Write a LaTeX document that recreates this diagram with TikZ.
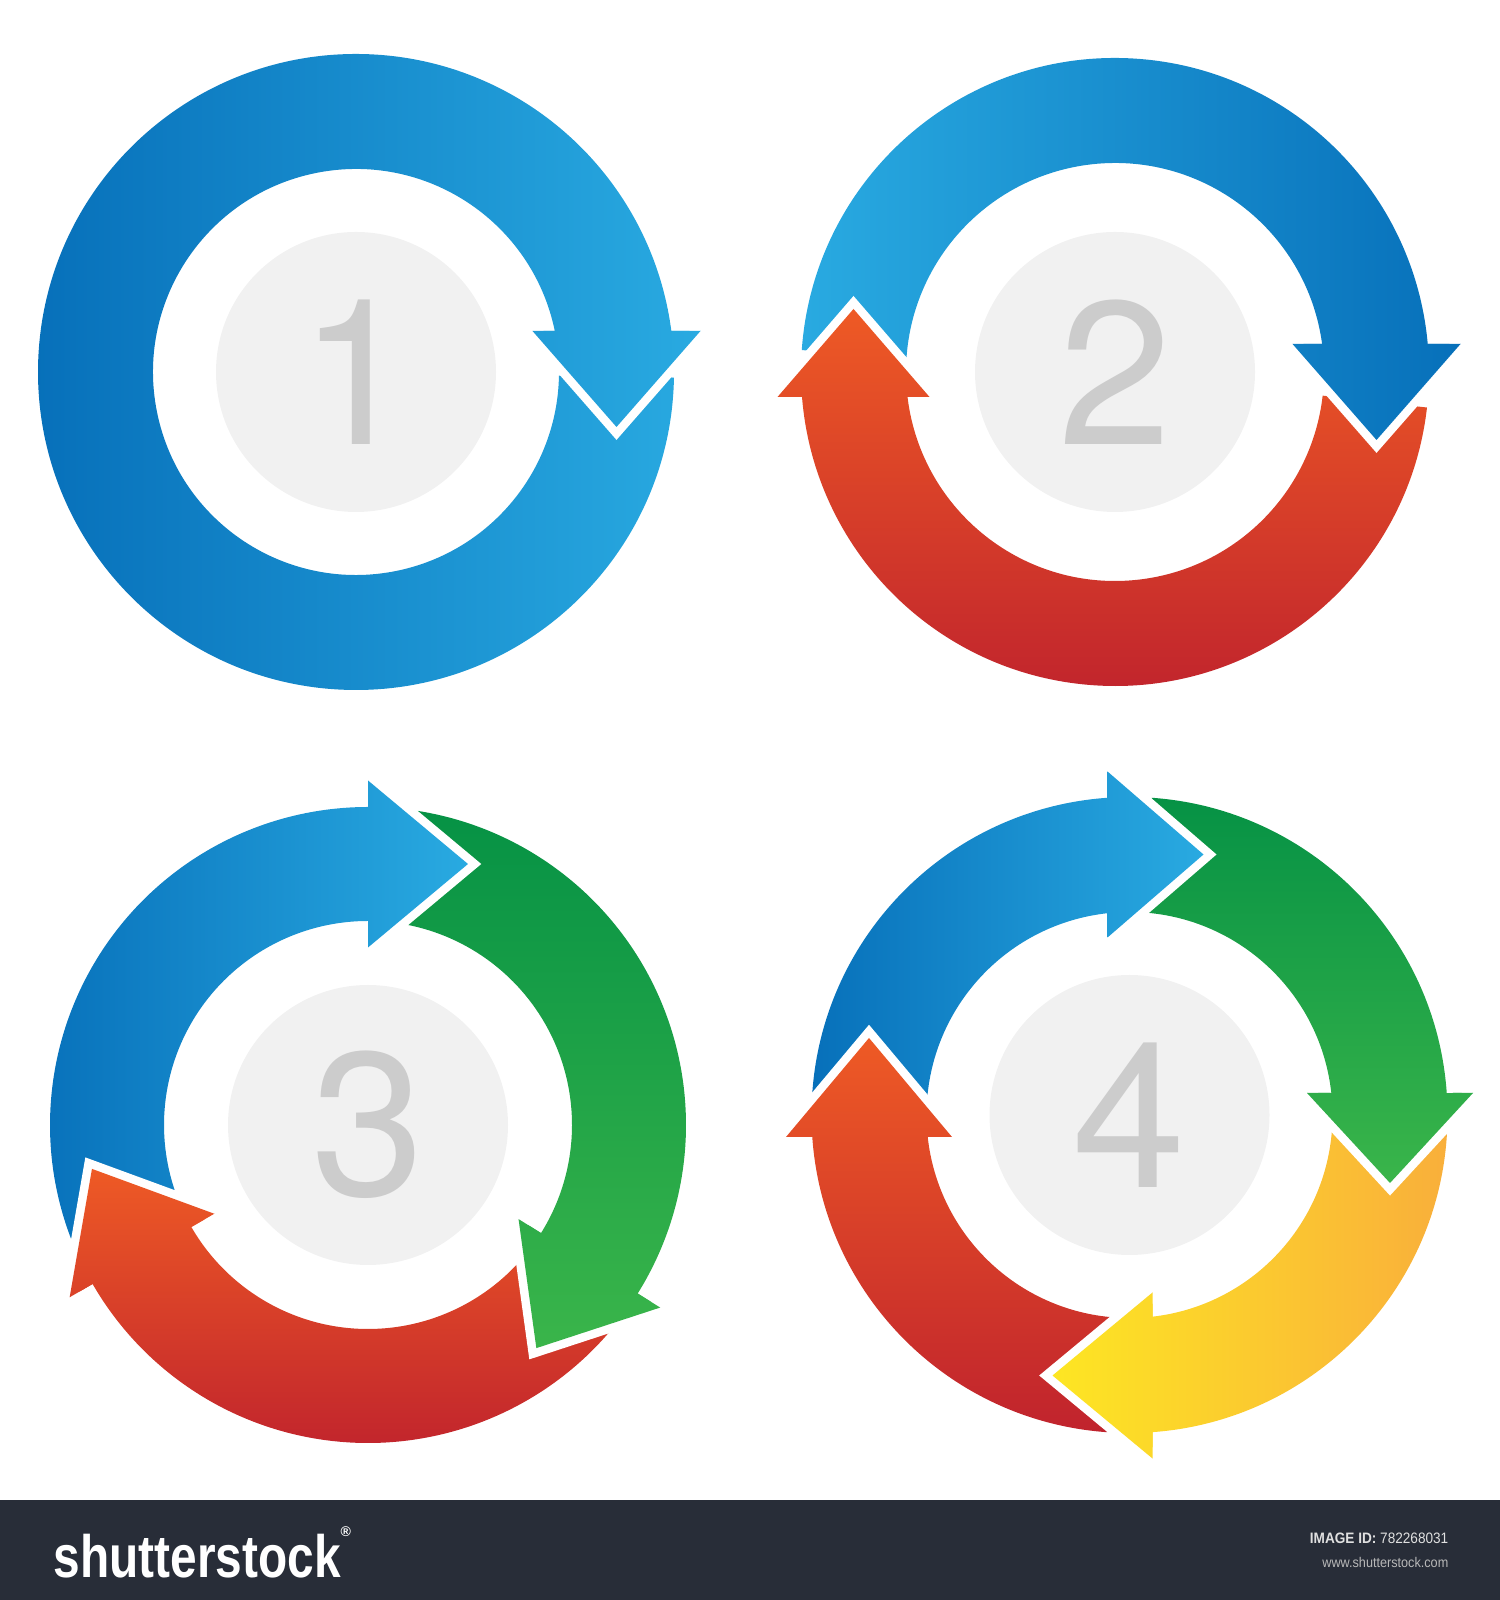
\documentclass[tikz,border=0pt]{standalone}
\usepackage{fontspec}
\setmainfont{Liberation Sans}
\newfontfamily\digitfont{TeX Gyre Heros}
\usetikzlibrary{calc}

\definecolor{bluedark}{RGB}{7,112,186}
\definecolor{bluelight}{RGB}{41,170,225}
\definecolor{redtop}{RGB}{238,90,37}
\definecolor{redbottom}{RGB}{192,35,45}
\definecolor{greendark}{RGB}{6,146,69}
\definecolor{greenlight}{RGB}{58,181,74}
\definecolor{yellowleft}{RGB}{253,230,35}
\definecolor{yellowright}{RGB}{249,175,59}
\definecolor{discgray}{RGB}{241,241,241}
\definecolor{digitgray}{RGB}{204,204,204}
\definecolor{barcolor}{RGB}{40,45,56}

% ring arrow outline: centre, tail angle, head angle, back, front, half width
\newcommand{\arrowpath}[6]{($(#1)+(#2:\ro)$) arc[start angle=#2, end angle={#3+asin(#4/\ro)}, radius=\ro]
  -- ($(#1)+(#3:\rmid+#6)+(#3+90:#4)$) -- ($(#1)+(#3:\rmid)+(#3-90:#5)$) -- ($(#1)+(#3:\rmid-#6)+(#3+90:#4)$)
  -- ($(#1)+({#3+asin(#4/\ri)}:\ri)$) arc[start angle={#3+asin(#4/\ri)}, end angle=#2, radius=\ri] -- cycle}
% the two slanted sides of the head
\newcommand{\headpath}[5]{($(#1)+(#2:\rmid+#5)+(#2+90:#3)$) -- ($(#1)+(#2:\rmid)+(#2-90:#4)$) -- ($(#1)+(#2:\rmid-#5)+(#2+90:#3)$)}
\newcommand{\ringarrow}[7]{\shade[#7] \arrowpath{#1}{#2}{#3}{#4}{#5}{#6};}
\newcommand{\ringhead}[7]{\draw[headgap] \headpath{#1}{#3}{#4}{#5}{#6};
  \begin{scope}
    \clip \headpath{#1}{#3}{#4}{#5}{#6} -- cycle;
    \shade[#7] \arrowpath{#1}{#2}{#3}{#4}{#5}{#6};
  \end{scope}}

\begin{document}
\begin{tikzpicture}[x=0.01cm, y=0.01cm,
    disc/.style={fill=discgray},
    digit/.style={inner sep=0pt, text=digitgray, font=\digitfont\fontsize{58}{58}\selectfont},
    headgap/.style={draw=white, line width=0.17cm},
    blueLR/.style={left color=bluedark, right color=bluelight},
    blueRL/.style={left color=bluelight, right color=bluedark},
    redTB/.style={top color=redtop, bottom color=redbottom},
    greenTB/.style={top color=greendark, bottom color=greenlight},
    yellowLR/.style={left color=yellowleft, right color=yellowright}]
  \useasboundingbox (0,0) rectangle (1500,1600);

  % 1
  \coordinate (c1) at (356,1228);
  \def\ro{318}\def\ri{203}\def\rmid{260.5}
  \fill[disc] (c1) circle[radius=140];
  \node[digit] (n1) at (c1) {1};
  \ringarrow{c1}{359}{0}{41}{55}{84}{blueLR}
  \ringhead{c1}{359}{0}{41}{55}{84}{blueLR}

  % 2
  \coordinate (c2) at (1115,1228);
  \def\ro{314}\def\ri{209}\def\rmid{261.5}
  \fill[disc] (c2) circle[radius=140];
  \node[digit] (n2) at (c2) {2};
  \ringarrow{c2}{176}{0}{28}{68}{84}{blueRL}
  \ringarrow{c2}{-6.5}{-180}{25}{63}{76}{redTB}
  \ringhead{c2}{176}{0}{28}{68}{84}{blueRL}
  \ringhead{c2}{-6.5}{-180}{25}{63}{76}{redTB}

  % 3
  \coordinate (c3) at (368,475);
  \def\ro{318}\def\ri{204}\def\rmid{261}
  \fill[disc] (c3) circle[radius=140];
  \node[digit] (n3) at (c3) {3};
  \ringarrow{c3}{201}{90}{0}{100}{83.5}{blueLR}
  \ringarrow{c3}{81}{-32}{0}{100}{83.5}{greenTB}
  \ringarrow{c3}{-39}{-150}{0}{100}{83.5}{redTB}
  \ringhead{c3}{201}{90}{0}{100}{83.5}{blueLR}
  \ringhead{c3}{81}{-32}{0}{100}{83.5}{greenTB}
  \ringhead{c3}{-39}{-150}{0}{100}{83.5}{redTB}

  % 4
  \coordinate (c4) at (1129.5,485);
  \def\ro{318}\def\ri{203}\def\rmid{260.5}
  \fill[disc] (c4) circle[radius=140];
  \node[digit] (n4) at (c4) {4};
  \ringarrow{c4}{176.5}{90}{22}{74}{83}{blueLR}
  \ringarrow{c4}{86}{0}{22}{68}{83}{greenTB}
  \ringarrow{c4}{-3}{-90}{23}{77}{83}{yellowLR}
  \ringarrow{c4}{-94}{-180}{22}{77}{83}{redTB}
  \ringhead{c4}{176.5}{90}{22}{74}{83}{blueLR}
  \ringhead{c4}{86}{0}{22}{68}{83}{greenTB}
  \ringhead{c4}{-3}{-90}{23}{77}{83}{yellowLR}
  \ringhead{c4}{-94}{-180}{22}{77}{83}{redTB}

  % footer
  \fill[barcolor] (0,0) rectangle (1500,100);
  \node[anchor=west, inner sep=0pt, text=white, font=\bfseries\fontsize{17}{17}\selectfont] (logo) at (53,48)
    {\scalebox{0.8}[1]{shutterstock}\raisebox{1.3ex}{\fontsize{4}{4}\selectfont\textregistered}};
  \node[anchor=east, inner sep=0pt, text=white!88!black, font=\fontsize{4.3}{5}\selectfont] (imageid) at (1449,62)
    {\scalebox{0.9}[1]{\textbf{IMAGE ID:} 782268031}};
  \node[anchor=east, inner sep=0pt, text=white!72!black, font=\fontsize{4}{5}\selectfont] (website) at (1449,38)
    {\scalebox{0.9}[1]{www.shutterstock.com}};
\end{tikzpicture}
\end{document}
